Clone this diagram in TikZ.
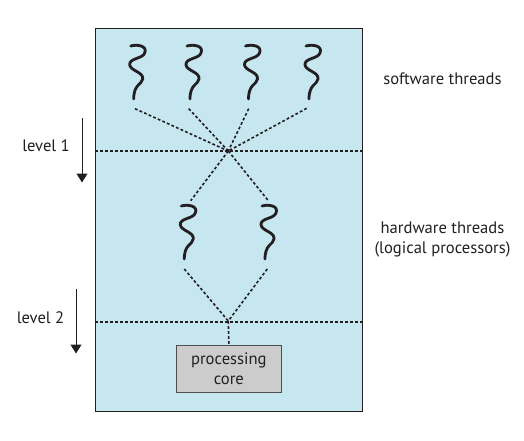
\documentclass[tikz,border=0pt]{standalone}
\usepackage{fontspec}
\setmainfont{PT Sans}
\usetikzlibrary{arrows.meta}
\definecolor{panelblue}{HTML}{C6E6F0}
\definecolor{corefill}{HTML}{CCCCCC}
\definecolor{inkdark}{HTML}{231F20}
\tikzset{
  x=1pt,y=-1pt,
  label text/.style={font=\fontsize{16.6}{20}\selectfont,text=inkdark,align=center,inner sep=0pt},
  dotted link/.style={draw=inkdark,line width=1.6pt,dash pattern=on 2.8pt off 2.2pt},
  level arrow/.style={draw=inkdark,line width=1pt,-{Triangle[length=9pt,width=11pt]}},
  thread/.pic={
    \draw[inkdark,line width=2.8pt,line cap=round]
      (-3,-54) .. controls (4,-56) and (14,-54) .. (11,-47)
      .. controls (9,-41) and (-5,-42) .. (-4,-35)
      .. controls (-3,-29) and (10,-28) .. (9,-21)
      .. controls (8,-15) and (0,-16) .. (0,-1);
  }
}
\begin{document}
\begin{tikzpicture}
\useasboundingbox (0,0) rectangle (524,440);
\node[draw=inkdark,fill=panelblue,line width=1pt,minimum width=267pt,minimum height=383pt,inner sep=0pt,anchor=north west] (panel) at (95,28) {};

\pic at (133.7,100) {thread};
\pic at (190,100) {thread};
\pic at (248.5,100) {thread};
\pic at (309,100) {thread};
\pic at (184.3,260) {thread};
\pic at (265,260) {thread};

\coordinate (hubA) at (228.3,151);
\coordinate (hubB) at (228.3,321);
\coordinate (lineAl) at (95,151);
\coordinate (lineAr) at (362,151);
\coordinate (lineBl) at (95,322);
\coordinate (lineBr) at (362,322);
\coordinate (sw1) at (135,108.7);
\coordinate (sw2) at (188.7,108.7);
\coordinate (sw3) at (248.7,108.7);
\coordinate (sw4) at (306.7,108.3);
\coordinate (hwt1) at (190.7,200.7);
\coordinate (hwt2) at (268.3,200.7);
\coordinate (hwb1) at (184.3,269);
\coordinate (hwb2) at (267.3,269);

\draw[dotted link] (lineAl) -- (lineAr);
\draw[dotted link] (lineBl) -- (lineBr);
\foreach \p in {sw1,sw2,sw3,sw4} \draw[dotted link] (\p) -- (hubA);
\draw[dotted link] (hubA) -- (hwt1);
\draw[dotted link] (hubA) -- (hwt2);
\draw[dotted link] (hwb1) -- (hubB);
\draw[dotted link] (hwb2) -- (hubB);

\node[draw=inkdark!80,fill=corefill,line width=1pt,minimum width=104.7pt,minimum height=47.4pt,inner sep=0pt,label text,anchor=north west] (core) at (176,344.5) {processing\\core};
\draw[dotted link] (hubB) -- (core.north);

\node[label text] (sw) at (442.5,79) {software threads};
\node[label text] (hw) at (442.5,239.5) {hardware threads\\(logical processors)};
\node[label text] (l1) at (46,146) {level 1};
\node[label text] (l2) at (40.5,317.5) {level 2};

\coordinate (a1s) at (82,118);
\coordinate (a1e) at (82,182.5);
\coordinate (a2s) at (76,289);
\coordinate (a2e) at (76,353.5);
\draw[level arrow] (a1s) -- (a1e);
\draw[level arrow] (a2s) -- (a2e);
\end{tikzpicture}
\end{document}
